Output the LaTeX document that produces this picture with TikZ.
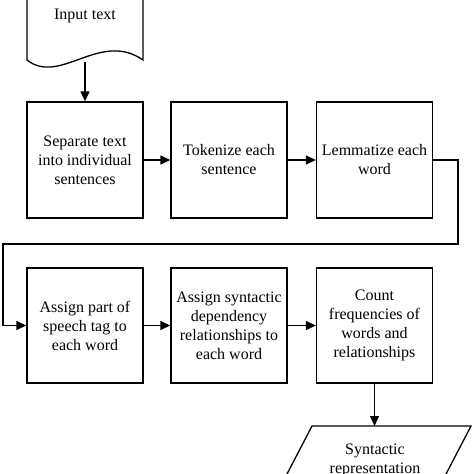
\documentclass[tikz,border=0pt]{standalone}
\usepackage{fontspec}
\setmainfont{Liberation Serif}
\usetikzlibrary{arrows.meta}
\begin{document}
\begin{tikzpicture}[x=1pt,y=-1pt,
  stepbox/.style={draw,line width=1.3pt,minimum width=116pt,minimum height=116pt,align=center,inner sep=2pt,
     font=\fontsize{16}{19}\selectfont},
  lbl/.style={align=center,font=\fontsize{16}{19}\selectfont},
  arr/.style={line width=1.3pt,-{Triangle[length=10pt,width=9pt]}},
  shp/.style={line width=1.3pt}]
\clip (0,0) rectangle (474,474);
\fill[white] (0,0) rectangle (474,474);
% input document
\draw[shp] (27,-5) -- (27,60) .. controls (60,86) and (100,30) .. (143,60) -- (143,-5);
\node[lbl] (in) at (85,16) {Input text};
\coordinate (inbot) at (85,62);
% row 1
\node[stepbox] (b1) at (85,160) {Separate text\\into individual\\sentences};
\node[stepbox] (b2) at (229,160) {Tokenize each\\sentence};
\node[stepbox] (b3) at (374.5,160) {Lemmatize each\\word};
% row 2
\node[stepbox,minimum height=115pt] (b4) at (85,325.5) {Assign part of\\speech tag to\\each word};
\node[stepbox,minimum height=115pt] (b5) at (229,325.5) {Assign syntactic\\dependency\\relationships to\\each word};
\node[stepbox,minimum height=115pt] (b6) at (374.5,325.5) {Count\\frequencies of\\words and\\relationships};
% output parallelogram
\draw[shp] (312,426) -- (471,426) -- (432.5,500) -- (273.5,500) -- cycle;
\coordinate (ptop) at (374.5,426);
\node[lbl] (out) at (375,460) {Syntactic\\representation};
% connectors
\coordinate (l1) at (458,244);
\coordinate (l2) at (3,244);
\draw[arr] (inbot) -- (b1.north);
\draw[arr] (b1) -- (b2);
\draw[arr] (b2) -- (b3);
\draw[arr] (b3.east) -| (l1) -- (l2) |- (b4.west);
\draw[arr] (b4) -- (b5);
\draw[arr] (b5) -- (b6);
\draw[arr] (b6.south) -- (ptop);
\end{tikzpicture}
\end{document}
